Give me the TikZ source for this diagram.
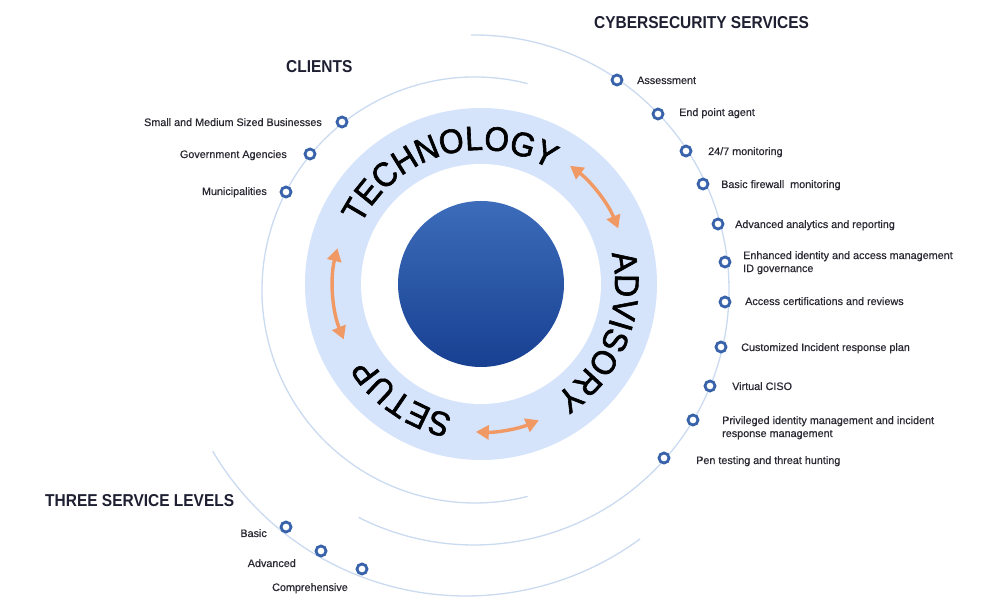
\documentclass[tikz,border=0pt]{standalone}
\usepackage{fontspec}
\setmainfont{Liberation Sans}
\newfontfamily\headfont[FakeStretch=0.9]{Liberation Sans}
\newfontfamily\itemfont[FakeBold=0.5]{Liberation Sans}
\newfontfamily\ringfont[FakeStretch=0.93,FakeBold=1.8]{Liberation Sans}
\usetikzlibrary{arrows.meta,decorations.text}
\definecolor{ringblue}{RGB}{213,228,250}
\definecolor{arcblue}{RGB}{202,218,240}
\definecolor{dotblue}{RGB}{56,98,170}
\definecolor{arrorange}{RGB}{241,153,100}
\definecolor{disctop}{RGB}{60,108,186}
\definecolor{discbot}{RGB}{24,64,146}
\definecolor{labelgray}{RGB}{40,40,50}
\definecolor{headnavy}{RGB}{30,32,50}
\newcommand\ringsize{\ringfont\fontsize{34}{34}\selectfont}

\begin{document}
\begin{tikzpicture}[x=1pt,y=1pt,
  dotnode/.style={circle,draw=dotblue,fill=white,line width=2.8pt,minimum size=10pt,inner sep=0pt},
  itemlabel/.style={inner sep=0pt,text=labelgray,font=\itemfont\fontsize{10.8}{13}\selectfont,align=left},
  heading/.style={inner sep=0pt,text=headnavy,font=\headfont\bfseries\fontsize{17.2}{20}\selectfont},
  guide/.style={draw=arcblue,line width=1.3pt},
  cyclearrow/.style={draw=arrorange,line width=3.4pt,{Triangle[length=13pt,width=14pt]}-{Triangle[length=13pt,width=14pt]}},
  ringword/.style={decorate,decoration={text along path,text align=center,text={|\ringsize|#1}}}]
\useasboundingbox (0,0) rectangle (1000,609);
\coordinate (hub) at (481,325);
\coordinate (clientsc) at (475,319);
\coordinate (servicesc) at (474,319);
\coordinate (levelsc) at (466,307);
\draw[guide] ([shift={(75.7:213)}]clientsc) arc[start angle=75.7,end angle=284.3,radius=213];
\draw[guide] ([shift={(90.7:255)}]servicesc) arc[start angle=90.7,end angle=-116.9,radius=255];
\draw[guide] ([shift={(210.5:294)}]levelsc) arc[start angle=210.5,end angle=306.3,radius=294];
\fill[ringblue] (hub) circle[radius=176];
\fill[white] (hub) circle[radius=120];
\shade[top color=disctop,bottom color=discbot] (hub) circle[radius=83];
\path[ringword=TECHNOLOGY] ([shift={(166.3:134)}]hub) arc[start angle=166.3,end angle=46.3,radius=134];
\path[ringword=ADVISORY] ([shift={(38.3:134)}]hub) arc[start angle=38.3,end angle=-81.7,radius=134];
\path[ringword=SETUP] ([shift={(295.3:134)}]hub) arc[start angle=295.3,end angle=175.3,radius=134];
\draw[cyclearrow] ([shift={(53:148)}]hub) arc[start angle=53,end angle=22,radius=148];
\draw[cyclearrow] ([shift={(268:148)}]hub) arc[start angle=268,end angle=293,radius=148];
\draw[cyclearrow] ([shift={(166:148)}]hub) arc[start angle=166,end angle=202,radius=148];

\node[heading,anchor=base west] (clients) at (286,536) {CLIENTS};
\node[dotnode] (smb) at (342,487) {};
\node[dotnode] (gov) at (310,455) {};
\node[dotnode] (muni) at (286,417) {};
\node[itemlabel,anchor=base east] (smbtext) at (322,483) {Small and Medium Sized Businesses};
\node[itemlabel,anchor=base east] (govtext) at (287,451) {Government Agencies};
\node[itemlabel,anchor=base east] (munitext) at (267,414) {Municipalities};

\node[heading,anchor=base west] (services) at (594,580) {CYBERSECURITY SERVICES};
\node[dotnode] (assess) at (617,529) {};
\node[dotnode] (endpt) at (658,495) {};
\node[dotnode] (monitor) at (686,458) {};
\node[dotnode] (firewall) at (703,425) {};
\node[dotnode] (analytics) at (718,385) {};
\node[dotnode] (identity) at (725,347) {};
\node[dotnode] (certs) at (725,307) {};
\node[dotnode] (incident) at (721,262) {};
\node[dotnode] (ciso) at (710,223) {};
\node[dotnode] (privileged) at (693,189) {};
\node[dotnode] (pentest) at (664,151) {};
\node[itemlabel,anchor=base west] (assesstext) at (637,525) {Assessment};
\node[itemlabel,anchor=base west] (endpttext) at (679,493) {End point agent};
\node[itemlabel,anchor=base west] (monitortext) at (708,454) {24/7 monitoring};
\node[itemlabel,anchor=base west] (firewalltext) at (721,421) {Basic firewall\ \ monitoring};
\node[itemlabel,anchor=base west] (analyticstext) at (735,381) {Advanced analytics and reporting};
\node[itemlabel,anchor=north west] (identitytext) at (743,358) {Enhanced identity and access management\\ID governance};
\node[itemlabel,anchor=base west] (certstext) at (745,304) {Access certifications and reviews};
\node[itemlabel,anchor=base west] (incidenttext) at (741,258) {Customized Incident response plan};
\node[itemlabel,anchor=base west] (cisotext) at (732,219) {Virtual CISO};
\node[itemlabel,anchor=north west] (privilegedtext) at (722,193) {Privileged identity management and incident\\response management};
\node[itemlabel,anchor=base west] (pentesttext) at (696,145) {Pen testing and threat hunting};

\node[heading,anchor=base west] (levels) at (45,102) {THREE SERVICE LEVELS};
\node[dotnode] (basic) at (286,82) {};
\node[dotnode] (advanced) at (321,58) {};
\node[dotnode] (comprehensive) at (362,40) {};
\node[itemlabel,anchor=base east] (basictext) at (267,72) {Basic};
\node[itemlabel,anchor=base east] (advancedtext) at (296,42) {Advanced};
\node[itemlabel,anchor=base east] (comprehensivetext) at (348,18) {Comprehensive};
\end{tikzpicture}
\end{document}
